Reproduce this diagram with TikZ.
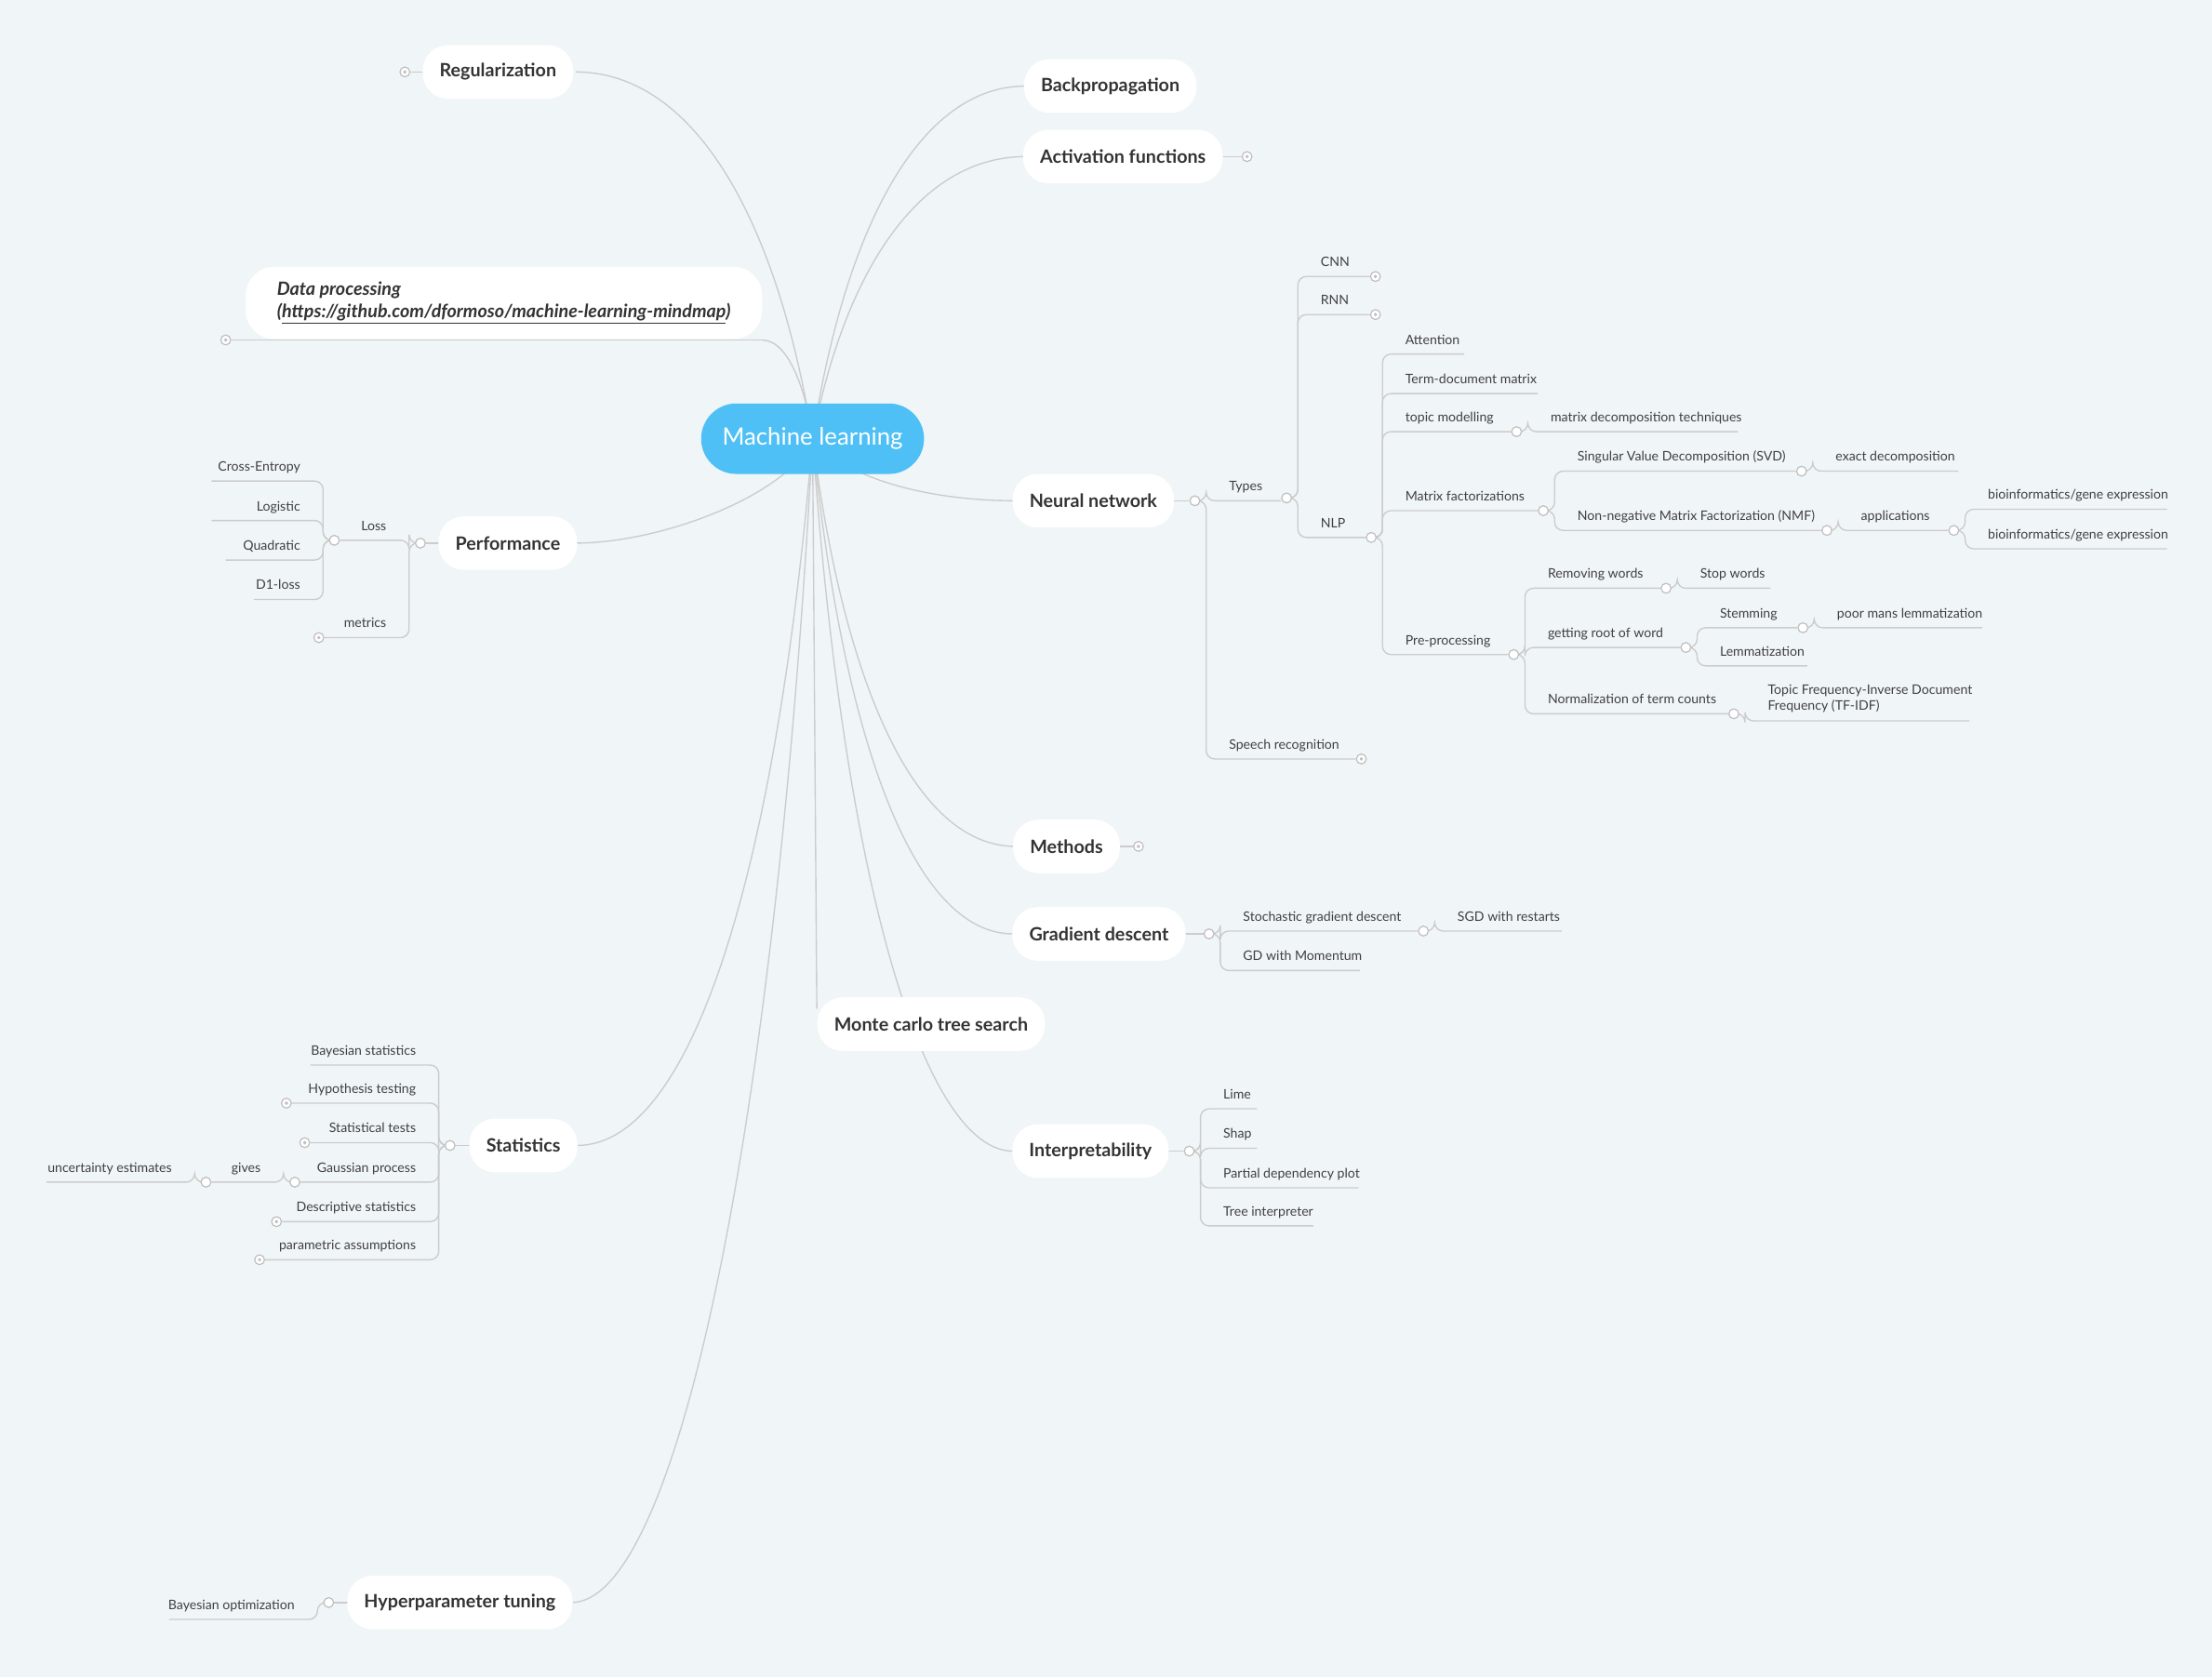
\documentclass[tikz,border=0pt]{standalone}
\usepackage{fontspec}
\setmainfont{Lato}
\begin{document}
\begin{tikzpicture}[x=1pt,y=-1pt,
 ln/.style={draw=black!20,line width=0.9pt},
 main/.style={fill=white,rounded corners=18pt,minimum height=38pt,inner xsep=12pt,font=\fontsize{13}{15}\selectfont\bfseries,text=black!80},
 leaf/.style={inner sep=0pt,font=\fontsize{9.3}{11}\selectfont,text=black!75},
 cp/.style={circle,draw=black!25,fill=white,line width=0.8pt,minimum size=7pt,inner sep=0pt}]
\fill[fill={rgb,255:red,240;green,245;blue,247}] (0,0) rectangle (1568,1189);
\useasboundingbox (0,0) rectangle (1568,1189);
\newcommand\rleaf[5]{\draw[ln,rounded corners=6pt] (#1+4,#2) -- (#1+8,#2) |- (#4,#3); \node[leaf,anchor=base west] at (#1+24,#3-7) {#5};}
\newcommand\lleaf[5]{\draw[ln,rounded corners=6pt] (#1-4,#2) -- (#1-8,#2) |- (#4,#3); \node[leaf,anchor=base east] at (#1-24,#3-7) {#5};}
\newcommand\cpo[2]{\node[cp] at (#1,#2) {};}
\newcommand\cpd[2]{\node[cp] at (#1,#2) {}; \fill[black!25] (#1,#2) circle (1.3pt);}
% main connectors
\draw[ln] (576,311) .. controls (599,161) and (652,61) .. (727,61);
\draw[ln] (576,311) .. controls (599,191) and (652,111) .. (727,111);
\draw[ln] (576,311) .. controls (600,340) and (660,355) .. (720,355);
\draw[ln] (576,311) .. controls (598,484) and (648,600) .. (720,600);
\draw[ln] (576,311) .. controls (597,522) and (647,662) .. (718,662);
\draw[ln] (576,311) -- (579,715);
\draw[ln] (576,311) .. controls (600,650) and (660,816) .. (718,816);
\draw[ln] (576,311) .. controls (551,155) and (492,51) .. (408,51);
\draw[ln] (576,311) .. controls (572,280) and (560,241) .. (540,241);
\draw[ln] (576,311) .. controls (560,350) and (470,385) .. (408,385);
\draw[ln] (576,311) .. controls (551,612) and (492,812) .. (409,812);
\draw[ln] (576,311) .. controls (550,800) and (480,1136) .. (405,1136);
% stubs
\draw[ln] (830,355) -- (843,355);
\draw[ln] (840,662) -- (853,662);
\draw[ln] (828,816) -- (839,816);
\draw[ln] (866,111) -- (880,111);
\draw[ln] (792,600) -- (803,600);
\draw[ln] (301,51) -- (291,51);
\draw[ln] (540,241) -- (164,241);
\draw[ln] (313,385) -- (302,385);
\draw[ln] (333,812) -- (323,812);
\draw[ln] (247,1136) -- (237,1136);
% center and main nodes
\node[fill={rgb,255:red,79;green,192;blue,246},rounded corners=25pt,minimum width=158pt,minimum height=50pt,text=white,font=\fontsize{17}{20}\selectfont] (ml) at (576,311) {Machine learning};
\node[main] (bp) at (787,61) {Backpropagation};
\node[main] (af) at (796,111) {Activation functions};
\node[main] (nn) at (775,355) {Neural network};
\node[main] (me) at (756,600) {Methods};
\node[main] (gd) at (779,662) {Gradient descent};
\node[main] (mc) at (660,726) {Monte carlo tree search};
\node[main] (ip) at (773,816) {Interpretability};
\node[main] (rg) at (353,51) {Regularization};
\node[main] (pf) at (360,385) {Performance};
\node[main] (st) at (371,812) {Statistics};
\node[main] (hp) at (326,1136) {Hyperparameter tuning};
\node[fill=white,rounded corners=20pt,minimum width=366pt,minimum height=51pt,font=\fontsize{13}{16}\selectfont\bfseries\itshape,text=black!80,align=left,anchor=north west,inner xsep=11pt] (dp) at (174,189) {Data processing\\(\underline{https://github.com/dformoso/machine-learning-mindmap})};
% right leaves
\rleaf{847}{355}{355}{908}{Types}
\rleaf{847}{355}{538}{961}{Speech recognition}
\rleaf{912}{353}{196}{971}{CNN}
\rleaf{912}{353}{223}{971}{RNN}
\rleaf{912}{353}{381}{968}{NLP}
\rleaf{972}{381}{251}{1038}{Attention}
\rleaf{972}{381}{279}{1090}{Term-document matrix}
\rleaf{972}{381}{306}{1071}{topic modelling}
\rleaf{972}{381}{362}{1090}{Matrix factorizations}
\rleaf{972}{381}{464}{1069}{Pre-processing}
\rleaf{1075}{306}{306}{1232}{matrix decomposition techniques}
\rleaf{1094}{362}{334}{1273}{Singular Value Decomposition (SVD)}
\rleaf{1094}{362}{376}{1291}{Non-negative Matrix Factorization (NMF)}
\rleaf{1277}{334}{334}{1388}{exact decomposition}
\rleaf{1295}{376}{376}{1381}{applications}
\rleaf{1385}{376}{361}{1536}{bioinformatics/gene expression}
\rleaf{1385}{376}{389}{1536}{bioinformatics/gene expression}
\rleaf{1073}{464}{417}{1177}{Removing words}
\rleaf{1073}{464}{459}{1191}{getting root of word}
\rleaf{1073}{464}{506}{1225}{Normalization of term counts}
\rleaf{1181}{417}{417}{1255}{Stop words}
\rleaf{1195}{459}{445}{1274}{Stemming}
\rleaf{1195}{459}{472}{1281}{Lemmatization}
\rleaf{1278}{445}{445}{1405}{poor mans lemmatization}
\draw[ln,rounded corners=6pt] (1233,506) -- (1237,506) |- (1396,511);
\node[leaf,anchor=south west,align=left] at (1253,505) {Topic Frequency-Inverse Document\\Frequency (TF-IDF)};
\rleaf{857}{662}{660}{1005}{Stochastic gradient descent}
\rleaf{857}{662}{688}{964}{GD with Momentum}
\rleaf{1009}{660}{660}{1107}{SGD with restarts}
\rleaf{843}{816}{786}{891}{Lime}
\rleaf{843}{816}{814}{891}{Shap}
\rleaf{843}{816}{842}{963}{Partial dependency plot}
\rleaf{843}{816}{869}{931}{Tree interpreter}
% left leaves
\lleaf{298}{385}{383}{241}{Loss}
\lleaf{298}{385}{452}{230}{metrics}
\lleaf{237}{383}{341}{150}{Cross-Entropy}
\lleaf{237}{383}{369}{150}{Logistic}
\lleaf{237}{383}{397}{160}{Quadratic}
\lleaf{237}{383}{425}{180}{D1-loss}
\lleaf{319}{812}{755}{220}{Bayesian statistics}
\lleaf{319}{812}{782}{207}{Hypothesis testing}
\lleaf{319}{812}{810}{220}{Statistical tests}
\lleaf{319}{812}{838}{213}{Gaussian process}
\lleaf{319}{812}{866}{200}{Descriptive statistics}
\lleaf{319}{812}{893}{188}{parametric assumptions}
\lleaf{209}{838}{838}{150}{gives}
\lleaf{146}{838}{838}{33}{uncertainty estimates}
\lleaf{233}{1136}{1148}{120}{Bayesian optimization}
% circles
\cpo{847}{355}\cpo{912}{353}\cpo{972}{381}\cpo{1075}{306}\cpo{1094}{362}
\cpo{1277}{334}\cpo{1295}{376}\cpo{1385}{376}\cpo{1073}{464}\cpo{1181}{417}
\cpo{1195}{459}\cpo{1278}{445}\cpo{1229}{506}\cpo{857}{662}\cpo{1009}{660}
\cpo{843}{816}\cpo{298}{385}\cpo{237}{383}\cpo{319}{812}\cpo{146}{838}
\cpo{209}{838}\cpo{233}{1136}
\cpd{287}{51}\cpd{160}{241}\cpd{884}{111}\cpd{975}{196}\cpd{975}{223}
\cpd{965}{538}\cpd{807}{600}\cpd{226}{452}\cpd{203}{782}\cpd{216}{810}
\cpd{196}{866}\cpd{184}{893}
\end{tikzpicture}
\end{document}
